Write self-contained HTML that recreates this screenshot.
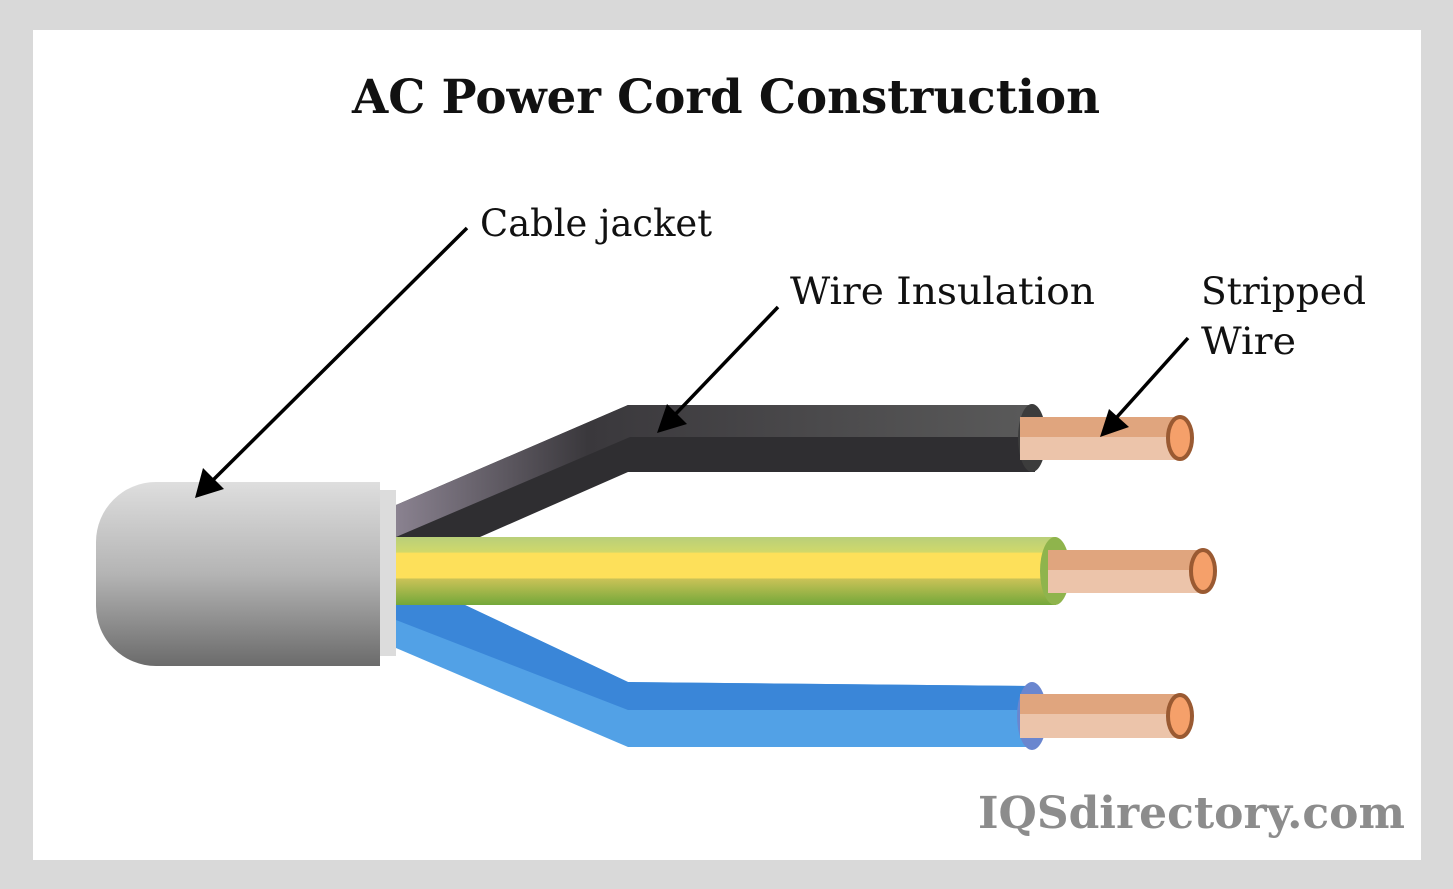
<!DOCTYPE html>
<html><head><style>
html,body{margin:0;padding:0;background:#d9d9d9;}
svg{display:block;}
</style></head><body>
<svg width="1453" height="889" viewBox="0 0 1453 889" xmlns="http://www.w3.org/2000/svg">
<defs>
<linearGradient id="jk" x1="0" y1="0" x2="0" y2="1">
<stop offset="0" stop-color="#dedede"/><stop offset="0.5" stop-color="#b4b4b4"/><stop offset="1" stop-color="#6b6b6b"/>
</linearGradient>
<linearGradient id="bk" x1="0" y1="0" x2="1" y2="0">
<stop offset="0" stop-color="#8a8290"/><stop offset="0.3" stop-color="#3a383c"/><stop offset="1" stop-color="#5a5a5a"/>
</linearGradient>
<linearGradient id="yg" x1="0" y1="0" x2="0" y2="1">
<stop offset="0" stop-color="#b9cf7a"/><stop offset="0.22" stop-color="#d0d86a"/><stop offset="0.24" stop-color="#fde05a"/><stop offset="0.6" stop-color="#fde05a"/><stop offset="0.62" stop-color="#c9c257"/><stop offset="1" stop-color="#73a83a"/>
</linearGradient>
</defs>
<rect x="0" y="0" width="1453" height="889" fill="#d9d9d9"/>
<rect x="33" y="30" width="1388" height="830" fill="#fff"/>
<text x="352" y="113" textLength="748" lengthAdjust="spacingAndGlyphs" font-family="'DejaVu Serif','Liberation Serif',serif" font-weight="bold" font-size="47" fill="#111">AC Power Cord Construction</text>

<path d="M396,505 L628,405 L1035,405 L1035,472 L628,472 L480,537 L396,537 Z" fill="#2f2e31"/>
<path d="M396,505 L628,405 L1035,405 L1035,437 L630,437 L396,537 Z" fill="url(#bk)"/>
<ellipse cx="1032" cy="438" rx="14" ry="34" fill="#3c3c3c"/>
<path d="M396,605 L465,605 L628,682 L1030,686 L1030,747 L628,747 L396,648 Z" fill="#52a1e6"/>
<path d="M396,605 L465,605 L628,682 L1030,686 L1030,710 L628,710 L396,620 Z" fill="#3a86d8"/>
<ellipse cx="1032" cy="716" rx="15" ry="34" fill="#6a86cf"/>
<rect x="396" y="537" width="660" height="68" fill="url(#yg)"/>
<ellipse cx="1055" cy="571" rx="15" ry="34" fill="#8fb44c"/>

<g>
<rect x="1020" y="417" width="160" height="43" fill="#ecc4aa"/>
<rect x="1020" y="417" width="160" height="20" fill="#e0a57e"/>
<ellipse cx="1180" cy="438" rx="12" ry="21" fill="#f5a06a" stroke="#9a5a32" stroke-width="4"/>
<rect x="1048" y="550" width="155" height="43" fill="#ecc4aa"/>
<rect x="1048" y="550" width="155" height="20" fill="#e0a57e"/>
<ellipse cx="1203" cy="571" rx="12" ry="21" fill="#f5a06a" stroke="#9a5a32" stroke-width="4"/>
<rect x="1020" y="694" width="160" height="44" fill="#ecc4aa"/>
<rect x="1020" y="694" width="160" height="20" fill="#e0a57e"/>
<ellipse cx="1180" cy="716" rx="12" ry="21" fill="#f5a06a" stroke="#9a5a32" stroke-width="4"/>
</g>

<rect x="378" y="490" width="18" height="166" fill="#dcdcdc"/>
<path d="M156,482 L380,482 L380,666 L156,666 A60,60 0 0 1 96,606 L96,542 A60,60 0 0 1 156,482 Z" fill="url(#jk)"/>

<g stroke="#000" stroke-width="3.5" fill="none">
<line x1="467" y1="228" x2="205" y2="488"/>
<line x1="778" y1="307" x2="667" y2="423"/>
<line x1="1188" y1="338" x2="1108" y2="427"/>
</g>
<path d="M195,498 L203,468 L224,489 Z" fill="#000"/>
<path d="M657,433 L667,404 L687,424 Z" fill="#000"/>
<path d="M1100,437 L1109,409 L1129,427 Z" fill="#000"/>

<g font-family="'DejaVu Serif','Liberation Serif',serif" font-size="37" fill="#111">
<text x="480" y="236" textLength="232" lengthAdjust="spacingAndGlyphs">Cable jacket</text>
<text x="790" y="304" textLength="305" lengthAdjust="spacingAndGlyphs">Wire Insulation</text>
<text x="1201" y="304" textLength="165" lengthAdjust="spacingAndGlyphs">Stripped</text>
<text x="1201" y="354" textLength="95" lengthAdjust="spacingAndGlyphs">Wire</text>
</g>
<text x="978" y="828" textLength="427" lengthAdjust="spacingAndGlyphs" font-family="'DejaVu Serif','Liberation Serif',serif" font-weight="bold" font-size="44" fill="#8c8c8c">IQSdirectory.com</text>
</svg>
</body></html>
